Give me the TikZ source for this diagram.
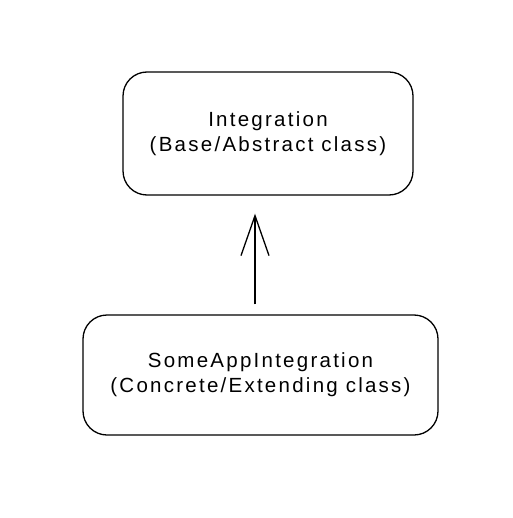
\documentclass[tikz,border=0pt]{standalone}
\usepackage{fontspec}
\setmainfont{Liberation Sans}[LetterSpace=11]
\usetikzlibrary{arrows.meta}
\tikzset{classbox/.style = {shape=rectangle,draw,line width=1.3pt,rounded corners=24pt,align=center,inner sep=0pt}}
\tikzset{edge/.style = {-{Straight Barb[length=40pt,width=28pt,line width=1.3pt]},line width=1.3pt}}

\begin{document}
\begin{tikzpicture}[x=1pt,y=-1pt,font=\fontsize{20.5}{25}\selectfont]
          \useasboundingbox (0,0) rectangle (512,518);
          \node[classbox,minimum width=290pt,minimum height=123pt] (base) at (268, 133.5) {Integration\\(Base/Abstract class)};
          \node[classbox,minimum width=355pt,minimum height=120pt] (concrete) at (260.5, 375) {SomeAppIntegration\\(Concrete/Extending class)};

          \path[edge,shorten >=18pt,shorten <=10pt] (concrete.north -| 255,0) edge (base.south -| 255,0);
        \end{tikzpicture}
\end{document}
